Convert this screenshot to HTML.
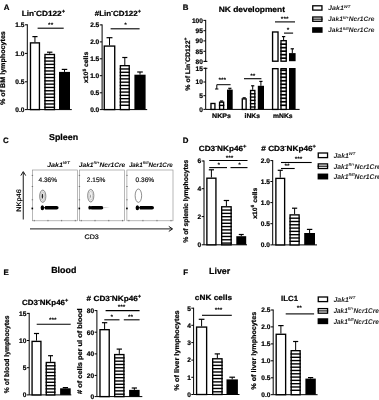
<!DOCTYPE html>
<html><head><meta charset="utf-8"><title>Jak1 NK figure</title><style>html,body{margin:0;padding:0;background:#fff;}body{width:379px;height:400px;overflow:hidden;}svg{display:block;}text{text-rendering:geometricPrecision;}text[font-weight=bold]{stroke:#000;stroke-width:0.22px;}text[font-style=italic]{stroke:#000;stroke-width:0.12px;}text:not([font-weight]){stroke:#000;stroke-width:0.18px;}text.ns{stroke:none;}</style></head><body>
<svg width="379" height="400" viewBox="0 0 379 400" font-family='"Liberation Sans", Arial, sans-serif' fill="#000" style="filter:blur(0.3px)">
<rect width="379" height="400" fill="#fff"/>
<text x="3.8" y="9.8" font-size="7.9" font-weight="bold">A</text>
<text x="182.8" y="9.9" font-size="7.9" font-weight="bold">B</text>
<text x="3" y="142.8" font-size="7.9" font-weight="bold">C</text>
<text x="182.8" y="142.8" font-size="7.9" font-weight="bold">D</text>
<text x="3.6" y="274.9" font-size="7.9" font-weight="bold">E</text>
<text x="183.2" y="274.6" font-size="7.9" font-weight="bold">F</text>
<text x="43.4" y="16.2" font-size="7.5" font-weight="bold" text-anchor="middle" textLength="43.32" lengthAdjust="spacingAndGlyphs">Lin<tspan font-size="5.25" dy="-3">-</tspan><tspan dy="3">&#8203;</tspan>CD122<tspan font-size="5.25" dy="-3">+</tspan><tspan dy="3">&#8203;</tspan></text>
<line x1="27.3" y1="24.3" x2="27.3" y2="109.6" stroke="#000" stroke-width="1"/>
<line x1="25" y1="24.8" x2="27.3" y2="24.8" stroke="#000" stroke-width="1"/>
<text x="24.5" y="27.18" font-size="6.6" font-weight="bold" text-anchor="end">1.5</text>
<line x1="25" y1="53.4" x2="27.3" y2="53.4" stroke="#000" stroke-width="1"/>
<text x="24.5" y="55.78" font-size="6.6" font-weight="bold" text-anchor="end">1.0</text>
<line x1="25" y1="81.8" x2="27.3" y2="81.8" stroke="#000" stroke-width="1"/>
<text x="24.5" y="84.18" font-size="6.6" font-weight="bold" text-anchor="end">0.5</text>
<line x1="25" y1="109.6" x2="27.3" y2="109.6" stroke="#000" stroke-width="1"/>
<text x="24.5" y="111.98" font-size="6.6" font-weight="bold" text-anchor="end">0.0</text>
<line x1="27.3" y1="109.6" x2="71.8" y2="109.6" stroke="#000" stroke-width="1"/>
<line x1="34.95" y1="36.6" x2="34.95" y2="42.2" stroke="#000" stroke-width="1"/>
<line x1="32.38" y1="36.6" x2="37.53" y2="36.6" stroke="#000" stroke-width="1.2"/>
<rect x="30.48" y="42.88" width="8.95" height="66.72" fill="#fff" stroke="#000" stroke-width="1.35"/>
<line x1="49.7" y1="52.2" x2="49.7" y2="53.8" stroke="#000" stroke-width="1"/>
<line x1="47" y1="52.2" x2="52.4" y2="52.2" stroke="#000" stroke-width="1.2"/>
<rect x="44.97" y="54.47" width="9.45" height="55.12" fill="#fff" stroke="#000" stroke-width="1.35"/>
<line x1="44.3" y1="57.77" x2="55.1" y2="57.77" stroke="#000" stroke-width="1.4"/>
<line x1="44.3" y1="61.07" x2="55.1" y2="61.07" stroke="#000" stroke-width="1.4"/>
<line x1="44.3" y1="64.37" x2="55.1" y2="64.37" stroke="#000" stroke-width="1.4"/>
<line x1="44.3" y1="67.67" x2="55.1" y2="67.67" stroke="#000" stroke-width="1.4"/>
<line x1="44.3" y1="70.97" x2="55.1" y2="70.97" stroke="#000" stroke-width="1.4"/>
<line x1="44.3" y1="74.27" x2="55.1" y2="74.27" stroke="#000" stroke-width="1.4"/>
<line x1="44.3" y1="77.57" x2="55.1" y2="77.57" stroke="#000" stroke-width="1.4"/>
<line x1="44.3" y1="80.87" x2="55.1" y2="80.87" stroke="#000" stroke-width="1.4"/>
<line x1="44.3" y1="84.17" x2="55.1" y2="84.17" stroke="#000" stroke-width="1.4"/>
<line x1="44.3" y1="87.47" x2="55.1" y2="87.47" stroke="#000" stroke-width="1.4"/>
<line x1="44.3" y1="90.77" x2="55.1" y2="90.77" stroke="#000" stroke-width="1.4"/>
<line x1="44.3" y1="94.07" x2="55.1" y2="94.07" stroke="#000" stroke-width="1.4"/>
<line x1="44.3" y1="97.37" x2="55.1" y2="97.37" stroke="#000" stroke-width="1.4"/>
<line x1="44.3" y1="100.67" x2="55.1" y2="100.67" stroke="#000" stroke-width="1.4"/>
<line x1="44.3" y1="103.97" x2="55.1" y2="103.97" stroke="#000" stroke-width="1.4"/>
<line x1="44.3" y1="107.27" x2="55.1" y2="107.27" stroke="#000" stroke-width="1.4"/>
<line x1="64.5" y1="69.4" x2="64.5" y2="71.9" stroke="#000" stroke-width="1"/>
<line x1="61.75" y1="69.4" x2="67.25" y2="69.4" stroke="#000" stroke-width="1.2"/>
<rect x="59" y="71.9" width="11" height="37.7" fill="#000"/>
<line x1="37.6" y1="28.2" x2="63.7" y2="28.2" stroke="#000" stroke-width="1.1"/>
<text x="50.65" y="26.74" font-size="6.6" font-weight="bold" text-anchor="middle" class="ns">**</text>
<text transform="translate(5,68.1) rotate(-90)" x="0" y="0" font-size="6.8" text-anchor="middle" font-weight="bold" textLength="73.88" lengthAdjust="spacingAndGlyphs">% of BM lymphocytes</text>
<text x="117.85" y="16.1" font-size="7.5" font-weight="bold" text-anchor="middle" textLength="46.23" lengthAdjust="spacingAndGlyphs">#Lin<tspan font-size="5.25" dy="-3">-</tspan><tspan dy="3">&#8203;</tspan>CD122<tspan font-size="5.25" dy="-3">+</tspan><tspan dy="3">&#8203;</tspan></text>
<line x1="102.1" y1="24.4" x2="102.1" y2="109.6" stroke="#000" stroke-width="1"/>
<line x1="99.8" y1="24.9" x2="102.1" y2="24.9" stroke="#000" stroke-width="1"/>
<text x="99.3" y="27.28" font-size="6.6" font-weight="bold" text-anchor="end">2.5</text>
<line x1="99.8" y1="41.9" x2="102.1" y2="41.9" stroke="#000" stroke-width="1"/>
<text x="99.3" y="44.28" font-size="6.6" font-weight="bold" text-anchor="end">2.0</text>
<line x1="99.8" y1="58.8" x2="102.1" y2="58.8" stroke="#000" stroke-width="1"/>
<text x="99.3" y="61.18" font-size="6.6" font-weight="bold" text-anchor="end">1.5</text>
<line x1="99.8" y1="75.7" x2="102.1" y2="75.7" stroke="#000" stroke-width="1"/>
<text x="99.3" y="78.08" font-size="6.6" font-weight="bold" text-anchor="end">1.0</text>
<line x1="99.8" y1="92.8" x2="102.1" y2="92.8" stroke="#000" stroke-width="1"/>
<text x="99.3" y="95.18" font-size="6.6" font-weight="bold" text-anchor="end">0.5</text>
<line x1="99.8" y1="109.6" x2="102.1" y2="109.6" stroke="#000" stroke-width="1"/>
<text x="99.3" y="111.98" font-size="6.6" font-weight="bold" text-anchor="end">0.0</text>
<line x1="102.1" y1="109.6" x2="147.2" y2="109.6" stroke="#000" stroke-width="1"/>
<line x1="109.5" y1="37.7" x2="109.5" y2="45.4" stroke="#000" stroke-width="1"/>
<line x1="106.55" y1="37.7" x2="112.45" y2="37.7" stroke="#000" stroke-width="1.2"/>
<rect x="104.27" y="46.07" width="10.45" height="63.52" fill="#fff" stroke="#000" stroke-width="1.35"/>
<line x1="124.8" y1="57.5" x2="124.8" y2="65" stroke="#000" stroke-width="1"/>
<line x1="122.25" y1="57.5" x2="127.35" y2="57.5" stroke="#000" stroke-width="1.2"/>
<rect x="120.38" y="65.67" width="8.85" height="43.92" fill="#fff" stroke="#000" stroke-width="1.35"/>
<line x1="119.7" y1="68.97" x2="129.9" y2="68.97" stroke="#000" stroke-width="1.4"/>
<line x1="119.7" y1="72.27" x2="129.9" y2="72.27" stroke="#000" stroke-width="1.4"/>
<line x1="119.7" y1="75.57" x2="129.9" y2="75.57" stroke="#000" stroke-width="1.4"/>
<line x1="119.7" y1="78.87" x2="129.9" y2="78.87" stroke="#000" stroke-width="1.4"/>
<line x1="119.7" y1="82.17" x2="129.9" y2="82.17" stroke="#000" stroke-width="1.4"/>
<line x1="119.7" y1="85.47" x2="129.9" y2="85.47" stroke="#000" stroke-width="1.4"/>
<line x1="119.7" y1="88.77" x2="129.9" y2="88.77" stroke="#000" stroke-width="1.4"/>
<line x1="119.7" y1="92.07" x2="129.9" y2="92.07" stroke="#000" stroke-width="1.4"/>
<line x1="119.7" y1="95.37" x2="129.9" y2="95.37" stroke="#000" stroke-width="1.4"/>
<line x1="119.7" y1="98.67" x2="129.9" y2="98.67" stroke="#000" stroke-width="1.4"/>
<line x1="119.7" y1="101.97" x2="129.9" y2="101.97" stroke="#000" stroke-width="1.4"/>
<line x1="119.7" y1="105.27" x2="129.9" y2="105.27" stroke="#000" stroke-width="1.4"/>
<line x1="140" y1="72" x2="140" y2="74.7" stroke="#000" stroke-width="1"/>
<line x1="137.2" y1="72" x2="142.8" y2="72" stroke="#000" stroke-width="1.2"/>
<rect x="134.4" y="74.7" width="11.2" height="34.9" fill="#000"/>
<line x1="110.6" y1="28.8" x2="139.6" y2="28.8" stroke="#000" stroke-width="1.1"/>
<text x="125.5" y="26.64" font-size="6.6" font-weight="bold" text-anchor="middle" class="ns">*</text>
<text transform="translate(88.1,67.4) rotate(-90)" x="0" y="0" font-size="6.4" text-anchor="middle" font-weight="bold" textLength="31.15" lengthAdjust="spacingAndGlyphs">x10<tspan font-size="4.6" dy="-2.6">5</tspan><tspan dy="2.6">&#8203;</tspan> cells</text>
<text x="251.85" y="11.9" font-size="7.8" font-weight="bold" text-anchor="middle" textLength="66.25" lengthAdjust="spacingAndGlyphs">NK development</text>
<line x1="205.7" y1="19.9" x2="205.7" y2="61.4" stroke="#000" stroke-width="1"/>
<line x1="203.4" y1="20.4" x2="205.7" y2="20.4" stroke="#000" stroke-width="1"/>
<text x="202.9" y="22.78" font-size="6.6" font-weight="bold" text-anchor="end">100</text>
<line x1="203.4" y1="30.7" x2="205.7" y2="30.7" stroke="#000" stroke-width="1"/>
<text x="202.9" y="33.08" font-size="6.6" font-weight="bold" text-anchor="end">95</text>
<line x1="203.4" y1="40.9" x2="205.7" y2="40.9" stroke="#000" stroke-width="1"/>
<text x="202.9" y="43.28" font-size="6.6" font-weight="bold" text-anchor="end">90</text>
<line x1="203.4" y1="51.3" x2="205.7" y2="51.3" stroke="#000" stroke-width="1"/>
<text x="202.9" y="53.68" font-size="6.6" font-weight="bold" text-anchor="end">85</text>
<line x1="203.4" y1="61.4" x2="205.7" y2="61.4" stroke="#000" stroke-width="1"/>
<text x="202.9" y="63.78" font-size="6.6" font-weight="bold" text-anchor="end">80</text>
<line x1="204.3" y1="61.4" x2="207.4" y2="61.4" stroke="#000" stroke-width="1"/>
<line x1="205.7" y1="67.8" x2="205.7" y2="109.4" stroke="#000" stroke-width="1"/>
<line x1="203.4" y1="68.3" x2="205.7" y2="68.3" stroke="#000" stroke-width="1"/>
<text x="202.9" y="70.68" font-size="6.6" font-weight="bold" text-anchor="end">15</text>
<line x1="203.4" y1="82" x2="205.7" y2="82" stroke="#000" stroke-width="1"/>
<text x="202.9" y="84.38" font-size="6.6" font-weight="bold" text-anchor="end">10</text>
<line x1="203.4" y1="95.7" x2="205.7" y2="95.7" stroke="#000" stroke-width="1"/>
<text x="202.9" y="98.08" font-size="6.6" font-weight="bold" text-anchor="end">5</text>
<line x1="203.4" y1="109.4" x2="205.7" y2="109.4" stroke="#000" stroke-width="1"/>
<text x="202.9" y="111.78" font-size="6.6" font-weight="bold" text-anchor="end">0</text>
<line x1="204.3" y1="68.3" x2="207.4" y2="68.3" stroke="#000" stroke-width="1"/>
<line x1="205.7" y1="109.4" x2="299.6" y2="109.4" stroke="#000" stroke-width="1"/>
<rect x="210.98" y="103.47" width="3.95" height="5.93" fill="#fff" stroke="#000" stroke-width="1.35"/>
<line x1="221.6" y1="101" x2="221.6" y2="101.5" stroke="#000" stroke-width="1"/>
<line x1="220" y1="101" x2="223.2" y2="101" stroke="#000" stroke-width="1.2"/>
<rect x="219.58" y="102.17" width="4.05" height="7.23" fill="#fff" stroke="#000" stroke-width="1.35"/>
<line x1="218.9" y1="105.38" x2="224.3" y2="105.38" stroke="#000" stroke-width="1.4"/>
<line x1="229.85" y1="88.3" x2="229.85" y2="89.6" stroke="#000" stroke-width="1"/>
<line x1="228.25" y1="88.3" x2="231.45" y2="88.3" stroke="#000" stroke-width="1.2"/>
<rect x="227" y="89.6" width="5.7" height="19.8" fill="#000"/>
<line x1="216.8" y1="84.7" x2="230.6" y2="84.7" stroke="#000" stroke-width="1"/>
<line x1="216.8" y1="84.7" x2="216.8" y2="89" stroke="#000" stroke-width="1"/>
<line x1="215" y1="89" x2="218.4" y2="89" stroke="#000" stroke-width="1"/>
<text x="222.3" y="81.74" font-size="6.6" font-weight="bold" text-anchor="middle" class="ns">***</text>
<line x1="244.2" y1="97.8" x2="244.2" y2="98.2" stroke="#000" stroke-width="1"/>
<line x1="242.6" y1="97.8" x2="245.8" y2="97.8" stroke="#000" stroke-width="1.2"/>
<rect x="242.28" y="98.88" width="3.85" height="10.53" fill="#fff" stroke="#000" stroke-width="1.35"/>
<line x1="252.7" y1="85.8" x2="252.7" y2="89.8" stroke="#000" stroke-width="1"/>
<line x1="251.1" y1="85.8" x2="254.3" y2="85.8" stroke="#000" stroke-width="1.2"/>
<rect x="250.58" y="90.47" width="4.25" height="18.93" fill="#fff" stroke="#000" stroke-width="1.35"/>
<line x1="249.9" y1="93.77" x2="255.5" y2="93.77" stroke="#000" stroke-width="1.4"/>
<line x1="249.9" y1="97.07" x2="255.5" y2="97.07" stroke="#000" stroke-width="1.4"/>
<line x1="249.9" y1="100.37" x2="255.5" y2="100.37" stroke="#000" stroke-width="1.4"/>
<line x1="249.9" y1="103.67" x2="255.5" y2="103.67" stroke="#000" stroke-width="1.4"/>
<line x1="249.9" y1="106.97" x2="255.5" y2="106.97" stroke="#000" stroke-width="1.4"/>
<line x1="260.9" y1="81.4" x2="260.9" y2="85.8" stroke="#000" stroke-width="1"/>
<line x1="259.3" y1="81.4" x2="262.5" y2="81.4" stroke="#000" stroke-width="1.2"/>
<rect x="257.8" y="85.8" width="6.2" height="23.6" fill="#000"/>
<line x1="244" y1="78.7" x2="261.4" y2="78.7" stroke="#000" stroke-width="1.1"/>
<text x="252.7" y="77.74" font-size="6.6" font-weight="bold" text-anchor="middle" class="ns">**</text>
<rect x="272.57" y="31.98" width="5.45" height="29.23" fill="#fff" stroke="#000" stroke-width="1.35"/>
<line x1="283.6" y1="36.6" x2="283.6" y2="40" stroke="#000" stroke-width="1"/>
<line x1="281.95" y1="36.6" x2="285.25" y2="36.6" stroke="#000" stroke-width="1.2"/>
<rect x="280.98" y="40.67" width="5.25" height="20.53" fill="#fff" stroke="#000" stroke-width="1.35"/>
<line x1="280.3" y1="44.17" x2="286.9" y2="44.17" stroke="#000" stroke-width="1.7"/>
<line x1="280.3" y1="47.67" x2="286.9" y2="47.67" stroke="#000" stroke-width="1.7"/>
<line x1="280.3" y1="51.17" x2="286.9" y2="51.17" stroke="#000" stroke-width="1.7"/>
<line x1="280.3" y1="54.67" x2="286.9" y2="54.67" stroke="#000" stroke-width="1.7"/>
<line x1="280.3" y1="58.17" x2="286.9" y2="58.17" stroke="#000" stroke-width="1.7"/>
<line x1="292.3" y1="48.8" x2="292.3" y2="53.1" stroke="#000" stroke-width="1"/>
<line x1="290.65" y1="48.8" x2="293.95" y2="48.8" stroke="#000" stroke-width="1.2"/>
<rect x="289" y="53.1" width="6.6" height="8.1" fill="#000"/>
<rect x="272.57" y="68.67" width="5.45" height="40.73" fill="#fff" stroke="#000" stroke-width="1.35"/>
<rect x="280.98" y="68.67" width="5.25" height="40.73" fill="#fff" stroke="#000" stroke-width="1.35"/>
<line x1="280.3" y1="70.27" x2="286.9" y2="70.27" stroke="#000" stroke-width="1.7"/>
<line x1="280.3" y1="73.77" x2="286.9" y2="73.77" stroke="#000" stroke-width="1.7"/>
<line x1="280.3" y1="77.27" x2="286.9" y2="77.27" stroke="#000" stroke-width="1.7"/>
<line x1="280.3" y1="80.77" x2="286.9" y2="80.77" stroke="#000" stroke-width="1.7"/>
<line x1="280.3" y1="84.27" x2="286.9" y2="84.27" stroke="#000" stroke-width="1.7"/>
<line x1="280.3" y1="87.77" x2="286.9" y2="87.77" stroke="#000" stroke-width="1.7"/>
<line x1="280.3" y1="91.27" x2="286.9" y2="91.27" stroke="#000" stroke-width="1.7"/>
<line x1="280.3" y1="94.77" x2="286.9" y2="94.77" stroke="#000" stroke-width="1.7"/>
<line x1="280.3" y1="98.27" x2="286.9" y2="98.27" stroke="#000" stroke-width="1.7"/>
<line x1="280.3" y1="101.77" x2="286.9" y2="101.77" stroke="#000" stroke-width="1.7"/>
<line x1="280.3" y1="105.27" x2="286.9" y2="105.27" stroke="#000" stroke-width="1.7"/>
<rect x="289" y="68" width="6.6" height="41.4" fill="#000"/>
<line x1="275" y1="21.9" x2="295" y2="21.9" stroke="#000" stroke-width="1.1"/>
<text x="284.7" y="20.54" font-size="6.6" font-weight="bold" text-anchor="middle" class="ns">***</text>
<line x1="284" y1="33.1" x2="293.1" y2="33.1" stroke="#000" stroke-width="1.1"/>
<text x="288.1" y="32.04" font-size="6.6" font-weight="bold" text-anchor="middle" class="ns">*</text>
<text x="221.45" y="118" font-size="6.6" font-weight="bold" text-anchor="middle" textLength="18.76" lengthAdjust="spacingAndGlyphs">NKPs</text>
<text x="252.3" y="118" font-size="6.6" font-weight="bold" text-anchor="middle" textLength="15.46" lengthAdjust="spacingAndGlyphs">iNKs</text>
<text x="282.8" y="118" font-size="6.6" font-weight="bold" text-anchor="middle" textLength="19.46" lengthAdjust="spacingAndGlyphs">mNKs</text>
<text transform="translate(189.6,64.2) rotate(-90)" x="0" y="0" font-size="6.6" text-anchor="middle" font-weight="bold" textLength="53.06" lengthAdjust="spacingAndGlyphs">% of Lin<tspan font-size="4.6" dy="-2.6">-</tspan><tspan dy="2.6">&#8203;</tspan>CD122<tspan font-size="4.6" dy="-2.6">+</tspan><tspan dy="2.6">&#8203;</tspan></text>
<rect x="312.75" y="5.8" width="9.2" height="4.3" fill="#fff" stroke="#000" stroke-width="1.3"/>
<text x="328.1" y="10.25" font-size="6.4" font-weight="bold" font-style="italic" textLength="22.35" lengthAdjust="spacingAndGlyphs" fill="#222" class="ns">Jak1<tspan font-size="3.84" dy="-2.69">WT</tspan><tspan dy="2.69">&#8203;</tspan></text>
<rect x="312.75" y="17" width="9.2" height="4.3" fill="#fff" stroke="#000" stroke-width="1.3"/>
<line x1="312.1" y1="19.15" x2="322.6" y2="19.15" stroke="#000" stroke-width="1.1"/>
<text x="328.1" y="21.45" font-size="6.4" font-weight="bold" font-style="italic" textLength="46.35" lengthAdjust="spacingAndGlyphs" fill="#222" class="ns">Jak1<tspan font-size="3.84" dy="-2.69">fl/+</tspan><tspan dy="2.69">&#8203;</tspan>Ncr1Cre</text>
<rect x="312.1" y="27.2" width="10.5" height="5.6" fill="#000"/>
<text x="328.1" y="32.3" font-size="6.4" font-weight="bold" font-style="italic" textLength="46.35" lengthAdjust="spacingAndGlyphs" fill="#222" class="ns">Jak1<tspan font-size="3.84" dy="-2.69">fl/fl</tspan><tspan dy="2.69">&#8203;</tspan>Ncr1Cre</text>
<text x="63.55" y="140.3" font-size="8.6" font-weight="bold" text-anchor="middle" textLength="29.1" lengthAdjust="spacingAndGlyphs">Spleen</text>
<line x1="23.25" y1="219.5" x2="23.25" y2="172.5" stroke="#000" stroke-width="0.9"/>
<path d="M20.8,175.6 L23.25,171.6 L25.7,175.6" fill="none" stroke="#000" stroke-width="0.9"/>
<text transform="translate(21.4,200.5) rotate(-90)" x="0" y="0" font-size="6.6" text-anchor="middle" textLength="22.56" lengthAdjust="spacingAndGlyphs">NKp46</text>
<rect x="32.3" y="170" width="45" height="50.8" fill="none" stroke="#888" stroke-width="0.6"/>
<text x="58.4" y="166.8" font-size="6.4" font-weight="bold" font-style="italic" text-anchor="middle" textLength="22.85" lengthAdjust="spacingAndGlyphs" class="ns">Jak1<tspan font-size="3.84" dy="-2.69">WT</tspan><tspan dy="2.69">&#8203;</tspan></text>
<text x="38.5" y="182.2" font-size="6.6" textLength="18.56" lengthAdjust="spacingAndGlyphs" fill="#111">4.36%</text>
<ellipse cx="42.75" cy="196.25" rx="3.1" ry="6.15" fill="#e8e8e8" stroke="#444" stroke-width="0.6"/>
<ellipse cx="42.75" cy="196.25" rx="1.92" ry="4.3" fill="none" stroke="#aaa" stroke-width="0.5"/>
<ellipse cx="42.45" cy="196.25" rx="0.7" ry="2.4" fill="#222"/>
<ellipse cx="42.4" cy="207.7" rx="1.75" ry="2.5" fill="#000"/>
<path d="M42.4,207.2 L44.8,207.2 L45.3,205.9 L56.7,205.9 A1.9,1.8 0 0 1 56.7,209.5 L45.3,209.5 L44.8,208.2 L42.4,208.2 Z" fill="#000"/>
<line x1="34.3" y1="221.3" x2="34.3" y2="219.9" stroke="#555" stroke-width="0.7"/>
<line x1="47.97" y1="221.3" x2="47.97" y2="219.9" stroke="#555" stroke-width="0.7"/>
<line x1="61.63" y1="221.3" x2="61.63" y2="219.9" stroke="#555" stroke-width="0.7"/>
<line x1="75.3" y1="221.3" x2="75.3" y2="219.9" stroke="#555" stroke-width="0.7"/>
<line x1="31.7" y1="175.4" x2="33.1" y2="175.4" stroke="#555" stroke-width="0.7"/>
<line x1="31.7" y1="186.5" x2="33.1" y2="186.5" stroke="#555" stroke-width="0.7"/>
<line x1="31.7" y1="199.8" x2="33.1" y2="199.8" stroke="#555" stroke-width="0.7"/>
<rect x="31.5" y="207.6" width="1.6" height="1.7" fill="#000"/>
<rect x="79.3" y="170" width="45.2" height="50.8" fill="none" stroke="#888" stroke-width="0.6"/>
<text x="102.05" y="166.8" font-size="6.4" font-weight="bold" font-style="italic" text-anchor="middle" textLength="46.55" lengthAdjust="spacingAndGlyphs" class="ns">Jak1<tspan font-size="3.84" dy="-2.69">fl/+</tspan><tspan dy="2.69">&#8203;</tspan>Ncr1Cre</text>
<text x="86.8" y="182.2" font-size="6.6" textLength="18.56" lengthAdjust="spacingAndGlyphs" fill="#111">2.15%</text>
<ellipse cx="90.75" cy="195.7" rx="3.1" ry="6.3" fill="#efefef" stroke="#444" stroke-width="0.6"/>
<ellipse cx="90.75" cy="195.7" rx="1.92" ry="4.41" fill="none" stroke="#aaa" stroke-width="0.5"/>
<ellipse cx="90.45" cy="196.2" rx="0.5" ry="1.8" fill="#999"/>
<ellipse cx="89.8" cy="207.7" rx="1.45" ry="1.9" fill="#000"/>
<path d="M89.8,207.2 L90.8,207.2 L91.3,205.9 L101.5,205.9 A1.9,1.8 0 0 1 101.5,209.5 L91.3,209.5 L90.8,208.2 L89.8,208.2 Z" fill="#000"/>
<path d="M103.4,206.9 L109.9,207.5 L103.4,208.3 Z" fill="#ccc"/>
<line x1="81.3" y1="221.3" x2="81.3" y2="219.9" stroke="#555" stroke-width="0.7"/>
<line x1="95.03" y1="221.3" x2="95.03" y2="219.9" stroke="#555" stroke-width="0.7"/>
<line x1="108.77" y1="221.3" x2="108.77" y2="219.9" stroke="#555" stroke-width="0.7"/>
<line x1="122.5" y1="221.3" x2="122.5" y2="219.9" stroke="#555" stroke-width="0.7"/>
<line x1="78.7" y1="175.4" x2="80.1" y2="175.4" stroke="#555" stroke-width="0.7"/>
<line x1="78.7" y1="186.5" x2="80.1" y2="186.5" stroke="#555" stroke-width="0.7"/>
<line x1="78.7" y1="199.8" x2="80.1" y2="199.8" stroke="#555" stroke-width="0.7"/>
<rect x="78.5" y="207.6" width="1.6" height="1.7" fill="#000"/>
<rect x="126.9" y="170" width="46.1" height="50.8" fill="none" stroke="#888" stroke-width="0.6"/>
<text x="150.85" y="166.8" font-size="6.4" font-weight="bold" font-style="italic" text-anchor="middle" textLength="43.95" lengthAdjust="spacingAndGlyphs" class="ns">Jak1<tspan font-size="3.84" dy="-2.69">fl/fl</tspan><tspan dy="2.69">&#8203;</tspan>Ncr1Cre</text>
<text x="135.6" y="182.2" font-size="6.6" textLength="18.56" lengthAdjust="spacingAndGlyphs" fill="#111">0.36%</text>
<ellipse cx="138.4" cy="195.7" rx="3.25" ry="6.7" fill="none" stroke="#444" stroke-width="0.6"/>
<ellipse cx="137.35" cy="207.7" rx="1.75" ry="2.5" fill="#000"/>
<path d="M137.35,207.2 L139.5,207.2 L140,205.9 L152.1,205.9 A1.9,1.8 0 0 1 152.1,209.5 L140,209.5 L139.5,208.2 L137.35,208.2 Z" fill="#000"/>
<line x1="128.9" y1="221.3" x2="128.9" y2="219.9" stroke="#555" stroke-width="0.7"/>
<line x1="142.93" y1="221.3" x2="142.93" y2="219.9" stroke="#555" stroke-width="0.7"/>
<line x1="156.97" y1="221.3" x2="156.97" y2="219.9" stroke="#555" stroke-width="0.7"/>
<line x1="171" y1="221.3" x2="171" y2="219.9" stroke="#555" stroke-width="0.7"/>
<line x1="126.3" y1="175.4" x2="127.7" y2="175.4" stroke="#555" stroke-width="0.7"/>
<line x1="126.3" y1="186.5" x2="127.7" y2="186.5" stroke="#555" stroke-width="0.7"/>
<line x1="126.3" y1="199.8" x2="127.7" y2="199.8" stroke="#555" stroke-width="0.7"/>
<rect x="126.1" y="207.6" width="1.6" height="1.7" fill="#000"/>
<line x1="30" y1="228.9" x2="172" y2="228.9" stroke="#000" stroke-width="0.9"/>
<path d="M168.8,226.4 L172.6,228.9 L168.8,231.4" fill="none" stroke="#000" stroke-width="0.9"/>
<text x="91.65" y="238.8" font-size="6.6" text-anchor="middle" textLength="14.36" lengthAdjust="spacingAndGlyphs">CD3</text>
<text x="222.6" y="151.1" font-size="7.5" font-weight="bold" text-anchor="middle" textLength="47.73" lengthAdjust="spacingAndGlyphs">CD3<tspan font-size="5.25" dy="-3">-</tspan><tspan dy="3">&#8203;</tspan>NKp46<tspan font-size="5.25" dy="-3">+</tspan><tspan dy="3">&#8203;</tspan></text>
<line x1="204" y1="160.5" x2="204" y2="244.8" stroke="#000" stroke-width="1"/>
<line x1="201.7" y1="161" x2="204" y2="161" stroke="#000" stroke-width="1"/>
<text x="201.2" y="163.38" font-size="6.6" font-weight="bold" text-anchor="end">6</text>
<line x1="201.7" y1="188.7" x2="204" y2="188.7" stroke="#000" stroke-width="1"/>
<text x="201.2" y="191.08" font-size="6.6" font-weight="bold" text-anchor="end">4</text>
<line x1="201.7" y1="216.6" x2="204" y2="216.6" stroke="#000" stroke-width="1"/>
<text x="201.2" y="218.98" font-size="6.6" font-weight="bold" text-anchor="end">2</text>
<line x1="201.7" y1="244.8" x2="204" y2="244.8" stroke="#000" stroke-width="1"/>
<text x="201.2" y="247.18" font-size="6.6" font-weight="bold" text-anchor="end">0</text>
<line x1="204" y1="244.8" x2="247" y2="244.8" stroke="#000" stroke-width="1"/>
<line x1="211.4" y1="169.8" x2="211.4" y2="177.5" stroke="#000" stroke-width="1"/>
<line x1="208.8" y1="169.8" x2="214" y2="169.8" stroke="#000" stroke-width="1.2"/>
<rect x="206.88" y="178.18" width="9.05" height="66.63" fill="#fff" stroke="#000" stroke-width="1.35"/>
<line x1="226.4" y1="200.5" x2="226.4" y2="206.1" stroke="#000" stroke-width="1"/>
<line x1="223.7" y1="200.5" x2="229.1" y2="200.5" stroke="#000" stroke-width="1.2"/>
<rect x="221.68" y="206.78" width="9.45" height="38.03" fill="#fff" stroke="#000" stroke-width="1.35"/>
<line x1="221" y1="210.08" x2="231.8" y2="210.08" stroke="#000" stroke-width="1.4"/>
<line x1="221" y1="213.38" x2="231.8" y2="213.38" stroke="#000" stroke-width="1.4"/>
<line x1="221" y1="216.68" x2="231.8" y2="216.68" stroke="#000" stroke-width="1.4"/>
<line x1="221" y1="219.98" x2="231.8" y2="219.98" stroke="#000" stroke-width="1.4"/>
<line x1="221" y1="223.28" x2="231.8" y2="223.28" stroke="#000" stroke-width="1.4"/>
<line x1="221" y1="226.58" x2="231.8" y2="226.58" stroke="#000" stroke-width="1.4"/>
<line x1="221" y1="229.88" x2="231.8" y2="229.88" stroke="#000" stroke-width="1.4"/>
<line x1="221" y1="233.18" x2="231.8" y2="233.18" stroke="#000" stroke-width="1.4"/>
<line x1="221" y1="236.48" x2="231.8" y2="236.48" stroke="#000" stroke-width="1.4"/>
<line x1="221" y1="239.78" x2="231.8" y2="239.78" stroke="#000" stroke-width="1.4"/>
<line x1="221" y1="243.08" x2="231.8" y2="243.08" stroke="#000" stroke-width="1.4"/>
<line x1="241.25" y1="234.5" x2="241.25" y2="236.2" stroke="#000" stroke-width="1"/>
<line x1="238.78" y1="234.5" x2="243.72" y2="234.5" stroke="#000" stroke-width="1.2"/>
<rect x="236.3" y="236.2" width="9.9" height="8.6" fill="#000"/>
<line x1="209.2" y1="160.5" x2="247.5" y2="160.5" stroke="#000" stroke-width="1.1"/>
<text x="229.6" y="160.44" font-size="6.6" font-weight="bold" text-anchor="middle" class="ns">***</text>
<line x1="209.2" y1="167.6" x2="227" y2="167.6" stroke="#000" stroke-width="1.1"/>
<text x="218.7" y="167.04" font-size="6.6" font-weight="bold" text-anchor="middle" class="ns">*</text>
<line x1="230.5" y1="167.6" x2="247.5" y2="167.6" stroke="#000" stroke-width="1.1"/>
<text x="239.5" y="167.04" font-size="6.6" font-weight="bold" text-anchor="middle" class="ns">*</text>
<text transform="translate(187.85,201.25) rotate(-90)" x="0" y="0" font-size="6.8" text-anchor="middle" font-weight="bold" textLength="82.98" lengthAdjust="spacingAndGlyphs">% of splenic lymphocytes</text>
<text x="288.65" y="150.6" font-size="7.5" font-weight="bold" text-anchor="middle" textLength="54.62" lengthAdjust="spacingAndGlyphs"># CD3<tspan font-size="5.25" dy="-3">-</tspan><tspan dy="3">&#8203;</tspan>NKp46<tspan font-size="5.25" dy="-3">+</tspan><tspan dy="3">&#8203;</tspan></text>
<line x1="272.7" y1="160.1" x2="272.7" y2="244.9" stroke="#000" stroke-width="1"/>
<line x1="270.4" y1="160.6" x2="272.7" y2="160.6" stroke="#000" stroke-width="1"/>
<text x="269.9" y="162.98" font-size="6.6" font-weight="bold" text-anchor="end">2.0</text>
<line x1="270.4" y1="181.5" x2="272.7" y2="181.5" stroke="#000" stroke-width="1"/>
<text x="269.9" y="183.88" font-size="6.6" font-weight="bold" text-anchor="end">1.5</text>
<line x1="270.4" y1="202.6" x2="272.7" y2="202.6" stroke="#000" stroke-width="1"/>
<text x="269.9" y="204.98" font-size="6.6" font-weight="bold" text-anchor="end">1.0</text>
<line x1="270.4" y1="223.7" x2="272.7" y2="223.7" stroke="#000" stroke-width="1"/>
<text x="269.9" y="226.08" font-size="6.6" font-weight="bold" text-anchor="end">0.5</text>
<line x1="270.4" y1="244.9" x2="272.7" y2="244.9" stroke="#000" stroke-width="1"/>
<text x="269.9" y="247.28" font-size="6.6" font-weight="bold" text-anchor="end">0.0</text>
<line x1="272.7" y1="244.9" x2="317" y2="244.9" stroke="#000" stroke-width="1"/>
<line x1="280.25" y1="170.3" x2="280.25" y2="177.7" stroke="#000" stroke-width="1"/>
<line x1="277.73" y1="170.3" x2="282.77" y2="170.3" stroke="#000" stroke-width="1.2"/>
<rect x="275.88" y="178.38" width="8.75" height="66.53" fill="#fff" stroke="#000" stroke-width="1.35"/>
<line x1="294.6" y1="208.2" x2="294.6" y2="214.2" stroke="#000" stroke-width="1"/>
<line x1="292" y1="208.2" x2="297.2" y2="208.2" stroke="#000" stroke-width="1.2"/>
<rect x="290.07" y="214.88" width="9.05" height="30.03" fill="#fff" stroke="#000" stroke-width="1.35"/>
<line x1="289.4" y1="218.18" x2="299.8" y2="218.18" stroke="#000" stroke-width="1.4"/>
<line x1="289.4" y1="221.48" x2="299.8" y2="221.48" stroke="#000" stroke-width="1.4"/>
<line x1="289.4" y1="224.78" x2="299.8" y2="224.78" stroke="#000" stroke-width="1.4"/>
<line x1="289.4" y1="228.08" x2="299.8" y2="228.08" stroke="#000" stroke-width="1.4"/>
<line x1="289.4" y1="231.38" x2="299.8" y2="231.38" stroke="#000" stroke-width="1.4"/>
<line x1="289.4" y1="234.68" x2="299.8" y2="234.68" stroke="#000" stroke-width="1.4"/>
<line x1="289.4" y1="237.98" x2="299.8" y2="237.98" stroke="#000" stroke-width="1.4"/>
<line x1="289.4" y1="241.28" x2="299.8" y2="241.28" stroke="#000" stroke-width="1.4"/>
<line x1="309.6" y1="229.4" x2="309.6" y2="233" stroke="#000" stroke-width="1"/>
<line x1="306.9" y1="229.4" x2="312.3" y2="229.4" stroke="#000" stroke-width="1.2"/>
<rect x="304.2" y="233" width="10.8" height="11.9" fill="#000"/>
<line x1="281" y1="162.5" x2="311.7" y2="162.5" stroke="#000" stroke-width="1.1"/>
<text x="298.6" y="160.94" font-size="6.6" font-weight="bold" text-anchor="middle" class="ns">***</text>
<line x1="281" y1="168.5" x2="294.7" y2="168.5" stroke="#000" stroke-width="1.1"/>
<text x="287" y="168.04" font-size="6.6" font-weight="bold" text-anchor="middle" class="ns">**</text>
<text transform="translate(256.5,203.3) rotate(-90)" x="0" y="0" font-size="6.4" text-anchor="middle" font-weight="bold" textLength="31.05" lengthAdjust="spacingAndGlyphs">x10<tspan font-size="4.6" dy="-2.6">6</tspan><tspan dy="2.6">&#8203;</tspan> cells</text>
<rect x="318.25" y="153" width="9.3" height="4.6" fill="#fff" stroke="#000" stroke-width="1.3"/>
<text x="333.4" y="157.75" font-size="6.8" font-weight="bold" font-style="italic" textLength="21.98" lengthAdjust="spacingAndGlyphs" fill="#222" class="ns">Jak1<tspan font-size="4.08" dy="-2.86">WT</tspan><tspan dy="2.86">&#8203;</tspan></text>
<rect x="318.25" y="163.9" width="9.3" height="4.6" fill="#fff" stroke="#000" stroke-width="1.3"/>
<line x1="317.6" y1="166.2" x2="328.2" y2="166.2" stroke="#000" stroke-width="1.1"/>
<text x="333.4" y="168.65" font-size="6.8" font-weight="bold" font-style="italic" textLength="47.48" lengthAdjust="spacingAndGlyphs" fill="#222" class="ns">Jak1<tspan font-size="4.08" dy="-2.86">fl/+</tspan><tspan dy="2.86">&#8203;</tspan>Ncr1Cre</text>
<rect x="317.6" y="173.55" width="10.6" height="5.9" fill="#000"/>
<text x="333.4" y="178.95" font-size="6.8" font-weight="bold" font-style="italic" textLength="47.48" lengthAdjust="spacingAndGlyphs" fill="#222" class="ns">Jak1<tspan font-size="4.08" dy="-2.86">fl/fl</tspan><tspan dy="2.86">&#8203;</tspan>Ncr1Cre</text>
<text x="63.75" y="272.5" font-size="8.8" font-weight="bold" text-anchor="middle" textLength="25.12" lengthAdjust="spacingAndGlyphs">Blood</text>
<text x="45.2" y="304.6" font-size="7.5" font-weight="bold" text-anchor="middle" textLength="46.12" lengthAdjust="spacingAndGlyphs">CD3<tspan font-size="5.25" dy="-3">-</tspan><tspan dy="3">&#8203;</tspan>NKp46<tspan font-size="5.25" dy="-3">+</tspan><tspan dy="3">&#8203;</tspan></text>
<line x1="29.2" y1="312.9" x2="29.2" y2="394.9" stroke="#000" stroke-width="1"/>
<line x1="26.9" y1="313.4" x2="29.2" y2="313.4" stroke="#000" stroke-width="1"/>
<text x="26.4" y="315.78" font-size="6.6" font-weight="bold" text-anchor="end">15</text>
<line x1="26.9" y1="340.5" x2="29.2" y2="340.5" stroke="#000" stroke-width="1"/>
<text x="26.4" y="342.88" font-size="6.6" font-weight="bold" text-anchor="end">10</text>
<line x1="26.9" y1="367.7" x2="29.2" y2="367.7" stroke="#000" stroke-width="1"/>
<text x="26.4" y="370.08" font-size="6.6" font-weight="bold" text-anchor="end">5</text>
<line x1="26.9" y1="394.9" x2="29.2" y2="394.9" stroke="#000" stroke-width="1"/>
<text x="26.4" y="397.28" font-size="6.6" font-weight="bold" text-anchor="end">0</text>
<line x1="29.2" y1="394.9" x2="71.3" y2="394.9" stroke="#000" stroke-width="1"/>
<line x1="36.5" y1="333.5" x2="36.5" y2="340.7" stroke="#000" stroke-width="1"/>
<line x1="33.95" y1="333.5" x2="39.05" y2="333.5" stroke="#000" stroke-width="1.2"/>
<rect x="32.07" y="341.38" width="8.85" height="53.52" fill="#fff" stroke="#000" stroke-width="1.35"/>
<line x1="50.55" y1="355.7" x2="50.55" y2="361.8" stroke="#000" stroke-width="1"/>
<line x1="48.07" y1="355.7" x2="53.02" y2="355.7" stroke="#000" stroke-width="1.2"/>
<rect x="46.27" y="362.48" width="8.55" height="32.42" fill="#fff" stroke="#000" stroke-width="1.35"/>
<line x1="45.6" y1="365.78" x2="55.5" y2="365.78" stroke="#000" stroke-width="1.4"/>
<line x1="45.6" y1="369.08" x2="55.5" y2="369.08" stroke="#000" stroke-width="1.4"/>
<line x1="45.6" y1="372.38" x2="55.5" y2="372.38" stroke="#000" stroke-width="1.4"/>
<line x1="45.6" y1="375.68" x2="55.5" y2="375.68" stroke="#000" stroke-width="1.4"/>
<line x1="45.6" y1="378.98" x2="55.5" y2="378.98" stroke="#000" stroke-width="1.4"/>
<line x1="45.6" y1="382.28" x2="55.5" y2="382.28" stroke="#000" stroke-width="1.4"/>
<line x1="45.6" y1="385.58" x2="55.5" y2="385.58" stroke="#000" stroke-width="1.4"/>
<line x1="45.6" y1="388.88" x2="55.5" y2="388.88" stroke="#000" stroke-width="1.4"/>
<line x1="45.6" y1="392.18" x2="55.5" y2="392.18" stroke="#000" stroke-width="1.4"/>
<line x1="65.4" y1="387.6" x2="65.4" y2="388.3" stroke="#000" stroke-width="1"/>
<line x1="62.75" y1="387.6" x2="68.05" y2="387.6" stroke="#000" stroke-width="1.2"/>
<rect x="60.1" y="388.3" width="10.6" height="6.6" fill="#000"/>
<line x1="36.7" y1="324.3" x2="70.7" y2="324.3" stroke="#000" stroke-width="1.1"/>
<text x="52.8" y="321.74" font-size="6.6" font-weight="bold" text-anchor="middle" class="ns">***</text>
<text transform="translate(9.3,354.3) rotate(-90)" x="0" y="0" font-size="6.8" text-anchor="middle" font-weight="bold" textLength="77.68" lengthAdjust="spacingAndGlyphs">% of blood lymphocytes</text>
<text x="113.95" y="301.1" font-size="7.5" font-weight="bold" text-anchor="middle" textLength="54.62" lengthAdjust="spacingAndGlyphs"># CD3<tspan font-size="5.25" dy="-3">-</tspan><tspan dy="3">&#8203;</tspan>NKp46<tspan font-size="5.25" dy="-3">+</tspan><tspan dy="3">&#8203;</tspan></text>
<line x1="96.9" y1="310.1" x2="96.9" y2="396.6" stroke="#000" stroke-width="1"/>
<line x1="94.6" y1="310.6" x2="96.9" y2="310.6" stroke="#000" stroke-width="1"/>
<text x="94.1" y="312.98" font-size="6.6" font-weight="bold" text-anchor="end">80</text>
<line x1="94.6" y1="332.2" x2="96.9" y2="332.2" stroke="#000" stroke-width="1"/>
<text x="94.1" y="334.58" font-size="6.6" font-weight="bold" text-anchor="end">60</text>
<line x1="94.6" y1="353.9" x2="96.9" y2="353.9" stroke="#000" stroke-width="1"/>
<text x="94.1" y="356.28" font-size="6.6" font-weight="bold" text-anchor="end">40</text>
<line x1="94.6" y1="375.4" x2="96.9" y2="375.4" stroke="#000" stroke-width="1"/>
<text x="94.1" y="377.78" font-size="6.6" font-weight="bold" text-anchor="end">20</text>
<line x1="94.6" y1="396.6" x2="96.9" y2="396.6" stroke="#000" stroke-width="1"/>
<text x="94.1" y="398.98" font-size="6.6" font-weight="bold" text-anchor="end">0</text>
<line x1="96.9" y1="396.6" x2="142.3" y2="396.6" stroke="#000" stroke-width="1"/>
<line x1="104.6" y1="322.7" x2="104.6" y2="329" stroke="#000" stroke-width="1"/>
<line x1="101.95" y1="322.7" x2="107.25" y2="322.7" stroke="#000" stroke-width="1.2"/>
<rect x="99.97" y="329.68" width="9.25" height="66.93" fill="#fff" stroke="#000" stroke-width="1.35"/>
<line x1="119.3" y1="349.1" x2="119.3" y2="353.9" stroke="#000" stroke-width="1"/>
<line x1="116.65" y1="349.1" x2="121.95" y2="349.1" stroke="#000" stroke-width="1.2"/>
<rect x="114.67" y="354.57" width="9.25" height="42.03" fill="#fff" stroke="#000" stroke-width="1.35"/>
<line x1="114" y1="357.88" x2="124.6" y2="357.88" stroke="#000" stroke-width="1.4"/>
<line x1="114" y1="361.18" x2="124.6" y2="361.18" stroke="#000" stroke-width="1.4"/>
<line x1="114" y1="364.48" x2="124.6" y2="364.48" stroke="#000" stroke-width="1.4"/>
<line x1="114" y1="367.78" x2="124.6" y2="367.78" stroke="#000" stroke-width="1.4"/>
<line x1="114" y1="371.08" x2="124.6" y2="371.08" stroke="#000" stroke-width="1.4"/>
<line x1="114" y1="374.38" x2="124.6" y2="374.38" stroke="#000" stroke-width="1.4"/>
<line x1="114" y1="377.68" x2="124.6" y2="377.68" stroke="#000" stroke-width="1.4"/>
<line x1="114" y1="380.98" x2="124.6" y2="380.98" stroke="#000" stroke-width="1.4"/>
<line x1="114" y1="384.28" x2="124.6" y2="384.28" stroke="#000" stroke-width="1.4"/>
<line x1="114" y1="387.58" x2="124.6" y2="387.58" stroke="#000" stroke-width="1.4"/>
<line x1="114" y1="390.88" x2="124.6" y2="390.88" stroke="#000" stroke-width="1.4"/>
<line x1="114" y1="394.18" x2="124.6" y2="394.18" stroke="#000" stroke-width="1.4"/>
<line x1="134.35" y1="388" x2="134.35" y2="389.9" stroke="#000" stroke-width="1"/>
<line x1="131.72" y1="388" x2="136.97" y2="388" stroke="#000" stroke-width="1.2"/>
<rect x="129.1" y="389.9" width="10.5" height="6.7" fill="#000"/>
<line x1="105.6" y1="310.6" x2="139.6" y2="310.6" stroke="#000" stroke-width="1.1"/>
<text x="121.5" y="308.84" font-size="6.6" font-weight="bold" text-anchor="middle" class="ns">***</text>
<line x1="104.3" y1="319.8" x2="119.5" y2="319.8" stroke="#000" stroke-width="1.1"/>
<text x="111.7" y="318.84" font-size="6.6" font-weight="bold" text-anchor="middle" class="ns">*</text>
<line x1="123.8" y1="319.8" x2="139.6" y2="319.8" stroke="#000" stroke-width="1.1"/>
<text x="130.5" y="318.64" font-size="6.6" font-weight="bold" text-anchor="middle" class="ns">**</text>
<text transform="translate(81.85,351.25) rotate(-90)" x="0" y="0" font-size="6.8" text-anchor="middle" font-weight="bold" textLength="85.48" lengthAdjust="spacingAndGlyphs"># of cells per ul of blood</text>
<text x="219.6" y="273.5" font-size="8.8" font-weight="bold" text-anchor="middle" textLength="21.02" lengthAdjust="spacingAndGlyphs">Liver</text>
<text x="213.45" y="299.8" font-size="7.5" font-weight="bold" text-anchor="middle" textLength="37.23" lengthAdjust="spacingAndGlyphs">cNK cells</text>
<line x1="193.6" y1="307.7" x2="193.6" y2="394.5" stroke="#000" stroke-width="1"/>
<line x1="191.3" y1="308.2" x2="193.6" y2="308.2" stroke="#000" stroke-width="1"/>
<text x="190.8" y="310.58" font-size="6.6" font-weight="bold" text-anchor="end">5</text>
<line x1="191.3" y1="325.3" x2="193.6" y2="325.3" stroke="#000" stroke-width="1"/>
<text x="190.8" y="327.68" font-size="6.6" font-weight="bold" text-anchor="end">4</text>
<line x1="191.3" y1="342.6" x2="193.6" y2="342.6" stroke="#000" stroke-width="1"/>
<text x="190.8" y="344.98" font-size="6.6" font-weight="bold" text-anchor="end">3</text>
<line x1="191.3" y1="360.1" x2="193.6" y2="360.1" stroke="#000" stroke-width="1"/>
<text x="190.8" y="362.48" font-size="6.6" font-weight="bold" text-anchor="end">2</text>
<line x1="191.3" y1="377.3" x2="193.6" y2="377.3" stroke="#000" stroke-width="1"/>
<text x="190.8" y="379.68" font-size="6.6" font-weight="bold" text-anchor="end">1</text>
<line x1="191.3" y1="394.5" x2="193.6" y2="394.5" stroke="#000" stroke-width="1"/>
<text x="190.8" y="396.88" font-size="6.6" font-weight="bold" text-anchor="end">0</text>
<line x1="193.6" y1="394.5" x2="239.5" y2="394.5" stroke="#000" stroke-width="1"/>
<line x1="201.6" y1="319.3" x2="201.6" y2="326.4" stroke="#000" stroke-width="1"/>
<line x1="198.75" y1="319.3" x2="204.45" y2="319.3" stroke="#000" stroke-width="1.2"/>
<rect x="196.58" y="327.07" width="10.05" height="67.43" fill="#fff" stroke="#000" stroke-width="1.35"/>
<line x1="217.35" y1="353.9" x2="217.35" y2="358.1" stroke="#000" stroke-width="1"/>
<line x1="214.68" y1="353.9" x2="220.02" y2="353.9" stroke="#000" stroke-width="1.2"/>
<rect x="212.68" y="358.78" width="9.35" height="35.72" fill="#fff" stroke="#000" stroke-width="1.35"/>
<line x1="212" y1="362.08" x2="222.7" y2="362.08" stroke="#000" stroke-width="1.4"/>
<line x1="212" y1="365.38" x2="222.7" y2="365.38" stroke="#000" stroke-width="1.4"/>
<line x1="212" y1="368.68" x2="222.7" y2="368.68" stroke="#000" stroke-width="1.4"/>
<line x1="212" y1="371.98" x2="222.7" y2="371.98" stroke="#000" stroke-width="1.4"/>
<line x1="212" y1="375.28" x2="222.7" y2="375.28" stroke="#000" stroke-width="1.4"/>
<line x1="212" y1="378.58" x2="222.7" y2="378.58" stroke="#000" stroke-width="1.4"/>
<line x1="212" y1="381.88" x2="222.7" y2="381.88" stroke="#000" stroke-width="1.4"/>
<line x1="212" y1="385.18" x2="222.7" y2="385.18" stroke="#000" stroke-width="1.4"/>
<line x1="212" y1="388.48" x2="222.7" y2="388.48" stroke="#000" stroke-width="1.4"/>
<line x1="212" y1="391.78" x2="222.7" y2="391.78" stroke="#000" stroke-width="1.4"/>
<line x1="232.2" y1="377.2" x2="232.2" y2="379.4" stroke="#000" stroke-width="1"/>
<line x1="229.35" y1="377.2" x2="235.05" y2="377.2" stroke="#000" stroke-width="1.2"/>
<rect x="226.5" y="379.4" width="11.4" height="15.1" fill="#000"/>
<line x1="202" y1="315.3" x2="231.8" y2="315.3" stroke="#000" stroke-width="1.1"/>
<text x="218.5" y="312.04" font-size="6.6" font-weight="bold" text-anchor="middle" class="ns">***</text>
<text transform="translate(179.1,350.5) rotate(-90)" x="0" y="0" font-size="6.8" text-anchor="middle" font-weight="bold" textLength="80.48" lengthAdjust="spacingAndGlyphs">% of liver lymphocytes</text>
<text x="289.6" y="301.1" font-size="7.5" font-weight="bold" text-anchor="middle" textLength="16.92" lengthAdjust="spacingAndGlyphs">ILC1</text>
<line x1="273.2" y1="309.5" x2="273.2" y2="394.7" stroke="#000" stroke-width="1"/>
<line x1="270.9" y1="310" x2="273.2" y2="310" stroke="#000" stroke-width="1"/>
<text x="270.4" y="312.38" font-size="6.6" font-weight="bold" text-anchor="end">2.5</text>
<line x1="270.9" y1="326.9" x2="273.2" y2="326.9" stroke="#000" stroke-width="1"/>
<text x="270.4" y="329.28" font-size="6.6" font-weight="bold" text-anchor="end">2.0</text>
<line x1="270.9" y1="343.9" x2="273.2" y2="343.9" stroke="#000" stroke-width="1"/>
<text x="270.4" y="346.28" font-size="6.6" font-weight="bold" text-anchor="end">1.5</text>
<line x1="270.9" y1="360.8" x2="273.2" y2="360.8" stroke="#000" stroke-width="1"/>
<text x="270.4" y="363.18" font-size="6.6" font-weight="bold" text-anchor="end">1.0</text>
<line x1="270.9" y1="377.8" x2="273.2" y2="377.8" stroke="#000" stroke-width="1"/>
<text x="270.4" y="380.18" font-size="6.6" font-weight="bold" text-anchor="end">0.5</text>
<line x1="270.9" y1="394.7" x2="273.2" y2="394.7" stroke="#000" stroke-width="1"/>
<text x="270.4" y="397.08" font-size="6.6" font-weight="bold" text-anchor="end">0.0</text>
<line x1="273.2" y1="394.7" x2="317.6" y2="394.7" stroke="#000" stroke-width="1"/>
<line x1="280.9" y1="325.6" x2="280.9" y2="333.6" stroke="#000" stroke-width="1"/>
<line x1="278.2" y1="325.6" x2="283.6" y2="325.6" stroke="#000" stroke-width="1.2"/>
<rect x="276.18" y="334.28" width="9.45" height="60.42" fill="#fff" stroke="#000" stroke-width="1.35"/>
<line x1="295.65" y1="341.5" x2="295.65" y2="350" stroke="#000" stroke-width="1"/>
<line x1="293.07" y1="341.5" x2="298.22" y2="341.5" stroke="#000" stroke-width="1.2"/>
<rect x="291.18" y="350.68" width="8.95" height="44.02" fill="#fff" stroke="#000" stroke-width="1.35"/>
<line x1="290.5" y1="353.98" x2="300.8" y2="353.98" stroke="#000" stroke-width="1.4"/>
<line x1="290.5" y1="357.28" x2="300.8" y2="357.28" stroke="#000" stroke-width="1.4"/>
<line x1="290.5" y1="360.58" x2="300.8" y2="360.58" stroke="#000" stroke-width="1.4"/>
<line x1="290.5" y1="363.88" x2="300.8" y2="363.88" stroke="#000" stroke-width="1.4"/>
<line x1="290.5" y1="367.18" x2="300.8" y2="367.18" stroke="#000" stroke-width="1.4"/>
<line x1="290.5" y1="370.48" x2="300.8" y2="370.48" stroke="#000" stroke-width="1.4"/>
<line x1="290.5" y1="373.78" x2="300.8" y2="373.78" stroke="#000" stroke-width="1.4"/>
<line x1="290.5" y1="377.08" x2="300.8" y2="377.08" stroke="#000" stroke-width="1.4"/>
<line x1="290.5" y1="380.38" x2="300.8" y2="380.38" stroke="#000" stroke-width="1.4"/>
<line x1="290.5" y1="383.68" x2="300.8" y2="383.68" stroke="#000" stroke-width="1.4"/>
<line x1="290.5" y1="386.98" x2="300.8" y2="386.98" stroke="#000" stroke-width="1.4"/>
<line x1="290.5" y1="390.28" x2="300.8" y2="390.28" stroke="#000" stroke-width="1.4"/>
<line x1="310.6" y1="377.6" x2="310.6" y2="378.6" stroke="#000" stroke-width="1"/>
<line x1="308" y1="377.6" x2="313.2" y2="377.6" stroke="#000" stroke-width="1.2"/>
<rect x="305.4" y="378.6" width="10.4" height="16.1" fill="#000"/>
<line x1="285.7" y1="313.9" x2="314.1" y2="313.9" stroke="#000" stroke-width="1.1"/>
<text x="299.2" y="309.54" font-size="6.6" font-weight="bold" text-anchor="middle" class="ns">**</text>
<text transform="translate(255.6,350.75) rotate(-90)" x="0" y="0" font-size="6.8" text-anchor="middle" font-weight="bold" textLength="77.98" lengthAdjust="spacingAndGlyphs">% of liver lymphocytes</text>
<rect x="318.25" y="297" width="9.3" height="4.6" fill="#fff" stroke="#000" stroke-width="1.3"/>
<text x="333.4" y="301.75" font-size="6.8" font-weight="bold" font-style="italic" textLength="21.98" lengthAdjust="spacingAndGlyphs" fill="#222" class="ns">Jak1<tspan font-size="4.08" dy="-2.86">WT</tspan><tspan dy="2.86">&#8203;</tspan></text>
<rect x="318.25" y="308.6" width="9.3" height="4.6" fill="#fff" stroke="#000" stroke-width="1.3"/>
<line x1="317.6" y1="310.9" x2="328.2" y2="310.9" stroke="#000" stroke-width="1.1"/>
<text x="333.4" y="313.35" font-size="6.8" font-weight="bold" font-style="italic" textLength="45.48" lengthAdjust="spacingAndGlyphs" fill="#222" class="ns">Jak1<tspan font-size="4.08" dy="-2.86">fl/+</tspan><tspan dy="2.86">&#8203;</tspan>Ncr1Cre</text>
<rect x="317.6" y="318.25" width="10.6" height="5.9" fill="#000"/>
<text x="333.4" y="323.65" font-size="6.8" font-weight="bold" font-style="italic" textLength="45.48" lengthAdjust="spacingAndGlyphs" fill="#222" class="ns">Jak1<tspan font-size="4.08" dy="-2.86">fl/fl</tspan><tspan dy="2.86">&#8203;</tspan>Ncr1Cre</text>
</svg>
</body></html>
